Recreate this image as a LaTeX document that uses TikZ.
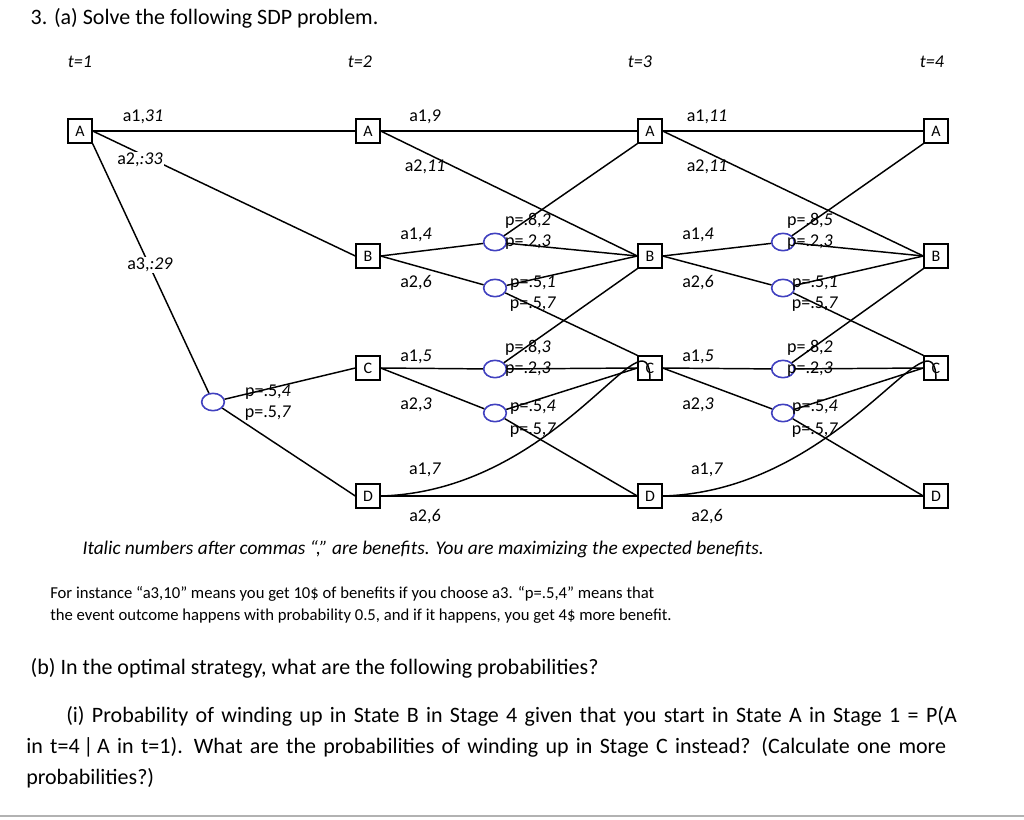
\documentclass[tikz,border=0pt]{standalone}
\usepackage{fontspec}
\setmainfont{Carlito}
\usetikzlibrary{shapes.geometric}
\begin{document}
\begin{tikzpicture}[x=0.75pt,y=-0.75pt,
 st/.style={draw,line width=1pt,minimum size=18pt,inner sep=0pt,font=\fontsize{12}{14}\selectfont},
 ch/.style={draw=blue!50!gray,line width=1.2pt,ellipse,minimum width=17pt,minimum height=13pt,inner sep=0pt},
 lb/.style={font=\fontsize{13.5}{16}\selectfont,inner sep=1pt},
 ed/.style={line width=1.1pt}]
\useasboundingbox (0,0) rectangle (1024,819);
\node[anchor=west,font=\fontsize{16.5}{19}\selectfont] (title) at (26,18) {3. (a) Solve the following SDP problem.};
\foreach \t/\x in {1/80,2/360,3/640,4/932}{\node[lb,font=\fontsize{13.5}{16}\selectfont\itshape] (t\t) at (\x,62) {t=\t};}
% states
\node[st] (A1) at (80,131) {A};
\foreach \s/\x in {2/368,3/650,4/936}{
 \node[st] (A\s) at (\x,131) {A};
 \node[st] (B\s) at (\x,256) {B};
 \node[st] (C\s) at (\x,368) {C};
 \node[st] (D\s) at (\x,496) {D};}
\node[ch] (k0) at (213,402) {};
\foreach \s/\x in {2/495,3/783}{
 \node[ch] (k\s a) at (\x,242) {};
 \node[ch] (k\s b) at (\x,288) {};
 \node[ch] (k\s c) at (\x,369) {};
 \node[ch] (k\s d) at (\x,413) {};}
% stage 1
\draw[ed] (A1) -- (A2); \draw[ed] (A1.east) -- (B2.west); \draw[ed] (A1.south east) -- (k0);
\draw[ed] (k0) -- (C2.west); \draw[ed] (k0) -- (D2.west);
\node[lb,fill=white] at (143,117) {a1,\textit{31}};
\node[lb,fill=white] at (140,160) {a2,\textit{:33}};
\node[lb,fill=white] at (150,265) {a3,\textit{:29}};
\node[lb] at (268,392) {p=.5,\textit{4}};
\node[lb] at (268,413) {p=.5,\textit{7}};
% stages 2,3
\foreach \s/\n/\x/\va/\vb/\pa/\pc in {2/3/368/9/11/2/3,3/4/650/11/11/5/2}{
 \draw[ed] (A\s) -- (A\n); \draw[ed] (A\s.east) -- (B\n.west);
 \draw[ed] (B\s.east) -- (k\s a); \draw[ed] (k\s a) -- (A\n.south west); \draw[ed] (k\s a) -- (B\n.west);
 \draw[ed] (B\s.east) -- (k\s b); \draw[ed] (k\s b) -- (B\n.west); \draw[ed] (k\s b) -- (C\n.north west);
 \draw[ed] (C\s.east) -- (k\s c); \draw[ed] (k\s c) -- (B\n.south west); \draw[ed] (k\s c) -- (C\n.west);
 \draw[ed] (C\s.east) -- (k\s d); \draw[ed] (k\s d) -- (C\n.west); \draw[ed] (k\s d) -- (D\n.west);
 \draw[ed] (D\s.east) .. controls +(180,-5) and +(0,-80) .. (C\n.south);
 \draw[ed] (D\s) -- (D\n);
 \node[lb] at (\x+57,117) {a1,\textit{\va}};
 \node[lb] at (\x+57,167) {a2,\textit{\vb}};
 \node[lb] at (\x+48,235) {a1,\textit{4}};
 \node[lb] at (\x+48,283) {a2,\textit{6}};
 \node[lb] at (\x+48,357) {a1,\textit{5}};
 \node[lb] at (\x+48,405) {a2,\textit{3}};
 \node[lb] at (\x+57,470) {a1,\textit{7}};
 \node[lb] at (\x+57,517) {a2,\textit{6}};
 \node[lb] at (\x+160,221) {p=.8,\textit{\pa}};
 \node[lb] at (\x+160,242) {p=.2,\textit{3}};
 \node[lb] at (\x+165,283) {p=.5,\textit{1}};
 \node[lb] at (\x+165,304) {p=.5,\textit{7}};
 \node[lb] at (\x+160,348) {p=.8,\textit{\pc}};
 \node[lb] at (\x+160,369) {p=.2,\textit{3}};
 \node[lb] at (\x+165,407) {p=.5,\textit{4}};
 \node[lb] at (\x+165,430) {p=.5,\textit{7}};}
\node[anchor=west,font=\fontsize{14.5}{17}\selectfont\itshape] (it) at (78,549) {Italic numbers after commas “,” are benefits. You are maximizing the expected benefits.};
\node[anchor=north west,align=left,font=\fontsize{12.5}{16.5}\selectfont,inner sep=0pt] (ex) at (50,586) {For instance “a3,10” means you get 10\$ of benefits if you choose a3. “p=.5,4” means that\\the event outcome happens with probability 0.5, and if it happens, you get 4\$ more benefit.};
\node[anchor=west,font=\fontsize{16.5}{19}\selectfont] (b) at (26,668) {(b) In the optimal strategy, what are the following probabilities?};
\node[anchor=north west,align=left,font=\fontsize{16.5}{23.3}\selectfont,inner sep=0pt,text width=705pt] (i) at (26,706) {\hspace*{30pt}(i) Probability of winding up in State B in Stage 4 given that you start in State A in Stage 1 = P(A in t=4\,|\,A in t=1). What are the probabilities of winding up in Stage C instead? (Calculate one more probabilities?)};
\draw[gray!60,thick] (0,816) -- (1024,816);
\end{tikzpicture}
\end{document}
